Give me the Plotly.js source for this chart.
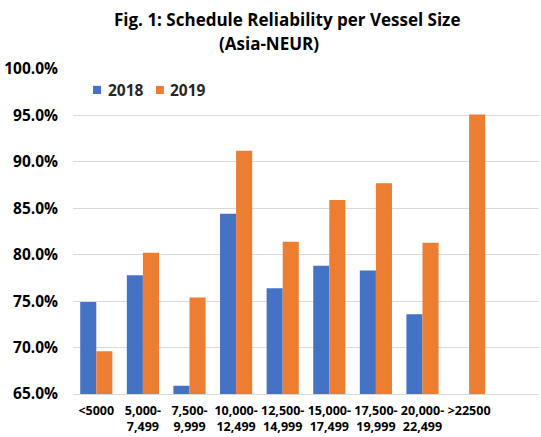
<!DOCTYPE html>
<html><head><meta charset="utf-8">
<script src="https://cdn.plot.ly/plotly-3.0.1.min.js"></script>
<style>html,body{margin:0;padding:0;background:#fff}</style>
</head><body>
<div id="chart" style="width:541px;height:437px"></div>
<script>
const categories = ["<5000","5,000-<br>7,499","7,500-<br>9,999","10,000-<br>12,499","12,500-<br>14,999","15,000-<br>17,499","17,500-<br>19,999","20,000-<br>22,499",">22500"];
const seriesNames = ["2018", "2019"];
const seriesColors = ["#4472c4", "#ed7d31"];
const values2018 = [0.749, 0.778, 0.659, 0.844, 0.764, 0.788, 0.783, 0.736, null];
const values2019 = [0.696, 0.802, 0.754, 0.912, 0.814, 0.859, 0.877, 0.813, 0.951];
const yTicks = [0.65,0.70,0.75,0.80,0.85,0.90,0.95,1.00];

const font = "'Open Sans', 'Noto Sans', sans-serif";
const traces = [
  {type:'bar', name:seriesNames[0], x:categories, y:values2018, marker:{color:seriesColors[0]}, showlegend:false},
  {type:'bar', name:seriesNames[1], x:categories, y:values2019, marker:{color:seriesColors[1]}, showlegend:false}
];

// Custom legend (compact, like the reference)
const legendItems = [
  {sq:[0.0429, 0.0601], tx:0.0708},
  {sq:[0.178, 0.195], tx:0.204}
];
const legendShapes = legendItems.map((it, i) => ({
  type:'rect', xref:'paper', yref:'paper', x0:it.sq[0], x1:it.sq[1], y0:0.923, y1:0.948,
  fillcolor:seriesColors[i], line:{width:0}
}));
const legendTexts = legendItems.map((it, i) => ({
  text:seriesNames[i], xref:'paper', yref:'paper', x:it.tx, y:0.936, xanchor:'left', yanchor:'middle',
  showarrow:false, font:{size:15.5, family:font, weight:'bold', color:'#262626'}
}));

const layout = {
  width:541, height:437,
  margin:{l:73, r:2, t:69, b:43},
  paper_bgcolor:'#fff', plot_bgcolor:'#fff',
  font:{family:font, color:'#000'},
  barmode:'group', bargap:0.31, bargroupgap:0,
  showlegend:false,
  xaxis:{type:'category', range:[-0.5, 9.5], showgrid:false, showline:true, linecolor:'#d9d9d9', linewidth:1,
         ticks:'', tickangle:0, ticklabelstandoff:5, tickfont:{size:12.5, family:font, weight:'bold'}, automargin:false},
  yaxis:{range:[0.65,1.0], tickvals:yTicks, tickformat:'.1%', showgrid:true, gridcolor:'#d9d9d9', gridwidth:1,
         zeroline:false, showline:false, ticks:'', ticklabelstandoff:14, tickfont:{size:15.5, family:font, weight:'bold'}, automargin:false},
  shapes: legendShapes,
  annotations:[
    {text:'Fig. 1: Schedule Reliability per Vessel Size', xref:'paper', yref:'paper', x:0.46, y:1.0, xanchor:'center', yanchor:'bottom',
     yshift:36, showarrow:false, font:{size:17, family:font, weight:'bold', color:'#000'}},
    {text:'(Asia-NEUR)', xref:'paper', yref:'paper', x:0.42, y:1.0, xanchor:'center', yanchor:'bottom',
     yshift:12, showarrow:false, font:{size:17, family:font, weight:'bold', color:'#000'}}
  ].concat(legendTexts)
};
Plotly.newPlot('chart', traces, layout, {displayModeBar:false, staticPlot:true});
</script>
</body></html>
